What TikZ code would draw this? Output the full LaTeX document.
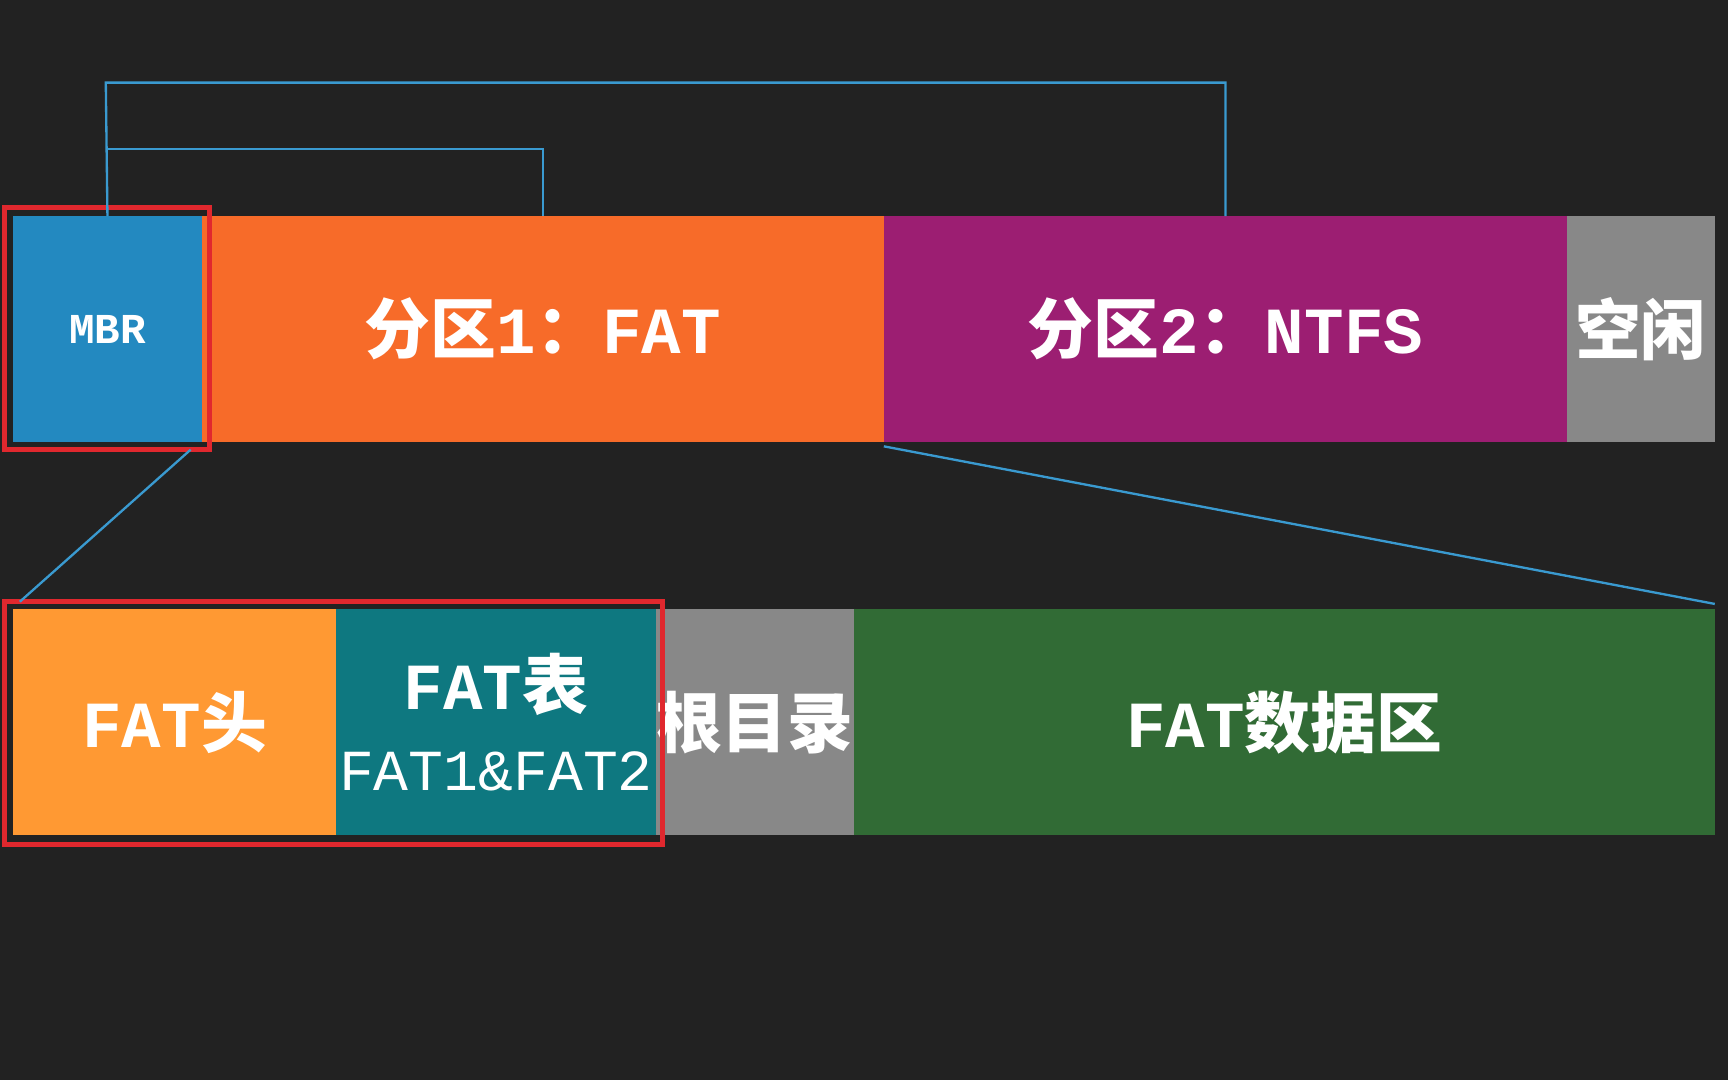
\documentclass[tikz,border=0pt]{standalone}
\usepackage{fontspec}
\setmainfont{Liberation Mono}
\newfontfamily\cjk{Noto Sans CJK SC}
\usetikzlibrary{positioning}
\definecolor{bg}{HTML}{222222}
\definecolor{mbrc}{HTML}{2389C0}
\definecolor{fatc}{HTML}{F76B29}
\definecolor{ntfsc}{HTML}{9C1E72}
\definecolor{freec}{HTML}{888888}
\definecolor{headc}{HTML}{FF9933}
\definecolor{tablec}{HTML}{0E7880}
\definecolor{datac}{HTML}{316B35}
\definecolor{link}{HTML}{3A9AD0}
\definecolor{mark}{HTML}{E0282E}
\newcommand{\zh}[1]{{\cjk\bfseries #1}}
\tikzset{
  seg/.style={minimum height=2.05cm, minimum width=#1cm, inner sep=0pt, outer sep=0pt,
    text=white, font=\bfseries\fontsize{17}{19}\selectfont, align=center},
  linkline/.style={draw=link, line width=0.6pt},
  frame/.style={draw=mark, line width=1.3pt},
}
\begin{document}
\begin{tikzpicture}
  \fill[bg] (0,0) rectangle (15.68,9.8);
  \useasboundingbox (0,0) rectangle (15.68,9.8);

  % disk layout
  \node[seg=1.71, fill=mbrc, font=\bfseries\fontsize{11}{13}\selectfont] (mbr) at (0.975,6.815) {MBR};
  \node[seg=6.19, fill=fatc, right=0pt of mbr] (fat) {\zh{分区}1\zh{：}FAT};
  \node[seg=6.20, fill=ntfsc, right=0pt of fat] (ntfs) {\zh{分区}2\zh{：}NTFS};
  \node[seg=1.34, fill=freec, right=0pt of ntfs] (free) {\zh{空闲}};

  % FAT partition layout
  \node[seg=2.93, fill=headc] (head) at (1.585,3.245) {FAT\zh{头}};
  \node[seg=2.90, fill=tablec, right=0pt of head] (table) {FAT\zh{表}\\[2pt]{\mdseries\fontsize{15}{17}\selectfont FAT1\&FAT2}};
  \node[seg=1.80, fill=freec, right=0pt of table] (root) {\zh{根目录}};
  \node[seg=7.81, fill=datac, right=0pt of root] (data) {FAT\zh{数据区}};

  % frames
  \draw[frame] (0.04,5.72) rectangle (1.90,7.92);
  \draw[frame] (0.04,2.14) rectangle (6.01,4.34);
  \coordinate (mbrcorner) at (1.73,5.72);
  \coordinate (headcorner) at (0.18,4.34);

  % partition table links
  \coordinate (top1) at (0.96,9.05);
  \coordinate (top2) at (0.96,8.45);
  \draw[linkline] (mbr.north) -- (top1) -| (ntfs.north);
  \draw[linkline] (top2) -| (fat.north);

  % zoom lines
  \draw[linkline] (mbrcorner) -- (headcorner);
  \draw[linkline] ([yshift=-0.04cm]fat.south east) -- ([yshift=0.05cm]data.north east);
\end{tikzpicture}
\end{document}
